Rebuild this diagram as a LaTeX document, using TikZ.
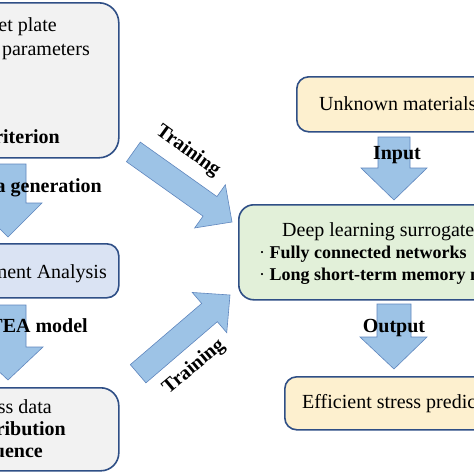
\documentclass[tikz,border=0pt]{standalone}
\usepackage{fontspec}
\setmainfont{Liberation Serif}
\usetikzlibrary{positioning}

\definecolor{boxline}{HTML}{2F4F86}
\definecolor{arrfill}{HTML}{9DC3E6}
\definecolor{arrline}{HTML}{5F86BE}
\definecolor{graybg}{HTML}{F2F2F2}
\definecolor{bluebg}{HTML}{DAE3F3}
\definecolor{greenbg}{HTML}{E2F0D9}
\definecolor{yellowbg}{HTML}{FDF0CF}

\tikzset{
  box/.style={draw=boxline, line width=1.6pt, anchor=north west, inner sep=0pt},
  graybox/.style={box, fill=graybg},
  bluebox/.style={box, fill=bluebg},
  greenbox/.style={box, fill=greenbg},
  yellowbox/.style={box, fill=yellowbg},
  blockarrow/.style={fill=arrfill, draw=arrline, line width=0.6pt, line join=miter},
  lbl/.style={inner sep=0pt, font=\fontsize{20}{24}\selectfont},
  blbl/.style={lbl, font=\fontsize{20}{24}\selectfont\bfseries},
  bullet/.style={lbl, font=\fontsize{18}{22}\selectfont\bfseries}
}

\begin{document}
\begin{tikzpicture}[x=1pt,y=-1pt]
\useasboundingbox (0,0) rectangle (474,474);
\fill[white] (0,0) rectangle (474,474);
\clip (0,0) rectangle (474,474);

% left column
\node[graybox, rounded corners=20pt, minimum width=158pt, minimum height=155pt] (params) at (-40,2) {};
\node[bluebox, rounded corners=12pt, minimum width=158pt, minimum height=54pt] (fea) at (-40,243) {};
\node[graybox, rounded corners=18pt, minimum width=158pt, minimum height=83pt] (stress) at (-40,387) {};

% right column
\node[yellowbox, rounded corners=12pt, minimum width=224pt, minimum height=55pt] (unknown) at (296,76) {};
\node[greenbox, rounded corners=15pt, minimum width=282pt, minimum height=95pt] (deep) at (238,204) {};
\node[yellowbox, rounded corners=12pt, minimum width=236pt, minimum height=53pt] (predict) at (284,376) {};

% block arrows
\draw[blockarrow] (-10,164) -- (26,164) -- (26,203) -- (42,203) -- (8,237) -- (-26,203) -- (-10,203) -- cycle;
\draw[blockarrow] (-10,305) -- (26,305) -- (26,347) -- (43,347) -- (8,380) -- (-27,347) -- (-10,347) -- cycle;
\draw[blockarrow] (378,137) -- (410,137) -- (410,168) -- (427,168) -- (394,200) -- (361,168) -- (378,168) -- cycle;
\draw[blockarrow] (377,304) -- (411,304) -- (411,337) -- (427,337) -- (394,369) -- (360,337) -- (377,337) -- cycle;
\begin{scope}[shift={(232,222)}, rotate=-35.4]
  \draw[blockarrow] (0,0) -- (-27,-26.5) -- (-27,-12) -- (-121,-12) -- (-121,12) -- (-27,12) -- (-27,26.5) -- cycle;
\end{scope}
\begin{scope}[shift={(230,295)}, rotate=40.6]
  \draw[blockarrow] (0,0) -- (-27,-26.5) -- (-27,-12) -- (-121,-12) -- (-121,12) -- (-27,12) -- (-27,26.5) -- cycle;
\end{scope}

% texts, left
\node[lbl, anchor=base east] (plate) at (57,31) {et plate};
\node[lbl, anchor=base east] (param) at (90,55) {parameters};
\node[blbl, anchor=base east] (crit) at (60,143) {riterion};
\node[blbl, anchor=base east] (gen) at (102,192) {a generation};
\node[lbl, anchor=base east] (anal) at (107,278) {ment Analysis};
\node[blbl, anchor=base east] (model) at (88,332) {TEA model};
\node[lbl, anchor=base east] (sdata) at (52,413) {ss data};
\node[blbl, anchor=base east] (distr) at (66,435) {tribution};
\node[blbl, anchor=base east] (seq) at (43,457) {uence};

% texts, middle
\node[blbl, rotate=-36] (train1) at (188,151) {Training};
\node[blbl, rotate=40] (train2) at (194,367) {Training};

% texts, right
\node[lbl, anchor=base west] (mat) at (319,110) {Unknown materials};
\node[blbl, anchor=base] (input) at (397,159) {Input};
\node[lbl, anchor=base west] (surr) at (282,236) {Deep learning surrogate};
\node[bullet, anchor=base west] (fcn) at (259,258) {{\mdseries·} Fully connected networks};
\node[bullet, anchor=base west] (lstm) at (259,280) {{\mdseries·} Long short-term memory n};
\node[blbl, anchor=base] (output) at (394,332) {Output};
\node[lbl, anchor=base west] (eff) at (302,408) {Efficient stress predic};
\end{tikzpicture}
\end{document}
